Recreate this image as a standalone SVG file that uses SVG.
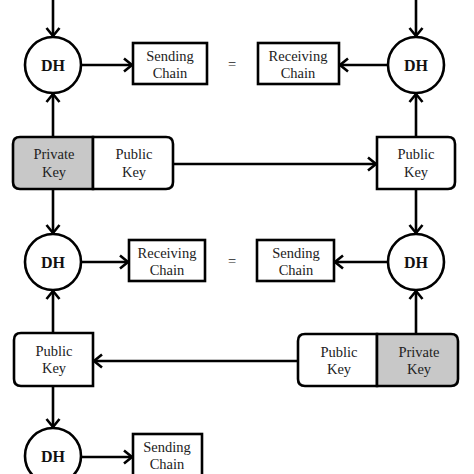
<svg xmlns="http://www.w3.org/2000/svg" width="474" height="474" viewBox="0 0 474 474">
<defs>
<style>
.ln{stroke:#000;stroke-width:2.6;fill:none}
.box{fill:#fff;stroke:#000;stroke-width:2.6}
.gray{fill:#c8c8c8}
.dh{fill:#fff;stroke:#000;stroke-width:2.6}
.t{font-family:"Liberation Serif","Times New Roman",serif;font-size:14.5px;text-anchor:middle;fill:#222}
.b{font-family:"Liberation Serif","Times New Roman",serif;font-size:16px;font-weight:bold;text-anchor:middle;fill:#111}
</style>
<marker id="ah" markerUnits="userSpaceOnUse" markerWidth="20" markerHeight="20" viewBox="-10 -10 20 20" refX="0" refY="0" orient="auto">
<path d="M-8,-6.5 L0,0 L-8,6.5" fill="none" stroke="#000" stroke-width="2.6"/>
</marker>
</defs>
<rect width="474" height="474" fill="#fff"/>
<g id="connectors" class="ln">
<line x1="53" y1="0" x2="53" y2="36" marker-end="url(#ah)"/>
<line x1="81" y1="65" x2="132" y2="65" marker-end="url(#ah)"/>
<line x1="53" y1="137" x2="53" y2="94" marker-end="url(#ah)"/>
<line x1="416" y1="0" x2="416" y2="36" marker-end="url(#ah)"/>
<line x1="388" y1="65" x2="340" y2="65" marker-end="url(#ah)"/>
<line x1="416" y1="137" x2="416" y2="94" marker-end="url(#ah)"/>
<line x1="173" y1="164" x2="376" y2="164" marker-end="url(#ah)"/>
<line x1="53" y1="189" x2="53" y2="233" marker-end="url(#ah)"/>
<line x1="416" y1="189" x2="416" y2="233" marker-end="url(#ah)"/>
<line x1="81" y1="262" x2="128" y2="262" marker-end="url(#ah)"/>
<line x1="388" y1="262" x2="335" y2="262" marker-end="url(#ah)"/>
<line x1="53" y1="333" x2="53" y2="291" marker-end="url(#ah)"/>
<line x1="416" y1="334" x2="416" y2="291" marker-end="url(#ah)"/>
<line x1="298" y1="361" x2="94" y2="361" marker-end="url(#ah)"/>
<line x1="53" y1="386" x2="53" y2="427" marker-end="url(#ah)"/>
<line x1="81" y1="457" x2="132" y2="457" marker-end="url(#ah)"/>
</g>
<g id="dh1"><circle class="dh" cx="53" cy="65" r="28"/><text class="b" x="53" y="71">DH</text></g>
<g id="send1"><rect class="box" x="133" y="43" width="74" height="41"/><text class="t" x="170" y="61">Sending</text><text class="t" x="170" y="78">Chain</text></g>
<g id="eq1"><text class="t" x="232" y="69">=</text></g>
<g id="recv1"><rect class="box" x="258" y="43" width="81" height="41"/><text class="t" x="298" y="61">Receiving</text><text class="t" x="298" y="78">Chain</text></g>
<g id="dh2"><circle class="dh" cx="416" cy="65" r="28"/><text class="b" x="416" y="71">DH</text></g>
<g id="keypair1">
<path class="box gray" d="M93,137 H20 Q13,137 13,144 V182 Q13,189 20,189 H93 Z"/>
<path class="box" d="M93,137 H166 Q173,137 173,144 V182 Q173,189 166,189 H93 Z"/>
<text class="t" x="54" y="159">Private</text><text class="t" x="54" y="177">Key</text>
<text class="t" x="134" y="159">Public</text><text class="t" x="134" y="177">Key</text>
</g>
<g id="pub1">
<path class="box" d="M377,137 H448 Q455,137 455,144 V182 Q455,189 448,189 H377 Z"/>
<text class="t" x="416" y="159">Public</text><text class="t" x="416" y="177">Key</text>
</g>
<g id="dh3"><circle class="dh" cx="53" cy="262" r="28"/><text class="b" x="53" y="268">DH</text></g>
<g id="recv2"><rect class="box" x="129" y="240" width="76" height="41"/><text class="t" x="167" y="258">Receiving</text><text class="t" x="167" y="275">Chain</text></g>
<g id="eq2"><text class="t" x="232" y="266">=</text></g>
<g id="send2"><rect class="box" x="257" y="240" width="77" height="41"/><text class="t" x="296" y="258">Sending</text><text class="t" x="296" y="275">Chain</text></g>
<g id="dh4"><circle class="dh" cx="416" cy="262" r="28"/><text class="b" x="416" y="268">DH</text></g>
<g id="pub2">
<path class="box" d="M93,333 H21 Q14,333 14,340 V379 Q14,386 21,386 H93 Z"/>
<text class="t" x="54" y="356">Public</text><text class="t" x="54" y="373">Key</text>
</g>
<g id="keypair2">
<path class="box" d="M377,334 H305 Q298,334 298,341 V379 Q298,386 305,386 H377 Z"/>
<path class="box gray" d="M377,334 H451 Q458,334 458,341 V379 Q458,386 451,386 H377 Z"/>
<text class="t" x="339" y="357">Public</text><text class="t" x="339" y="374">Key</text>
<text class="t" x="419" y="357">Private</text><text class="t" x="419" y="374">Key</text>
</g>
<g id="dh5"><circle class="dh" cx="53" cy="456" r="28"/><text class="b" x="53" y="462">DH</text></g>
<g id="send3"><rect class="box" x="133" y="434" width="69" height="45"/><text class="t" x="167" y="452">Sending</text><text class="t" x="167" y="469">Chain</text></g>
</svg>
